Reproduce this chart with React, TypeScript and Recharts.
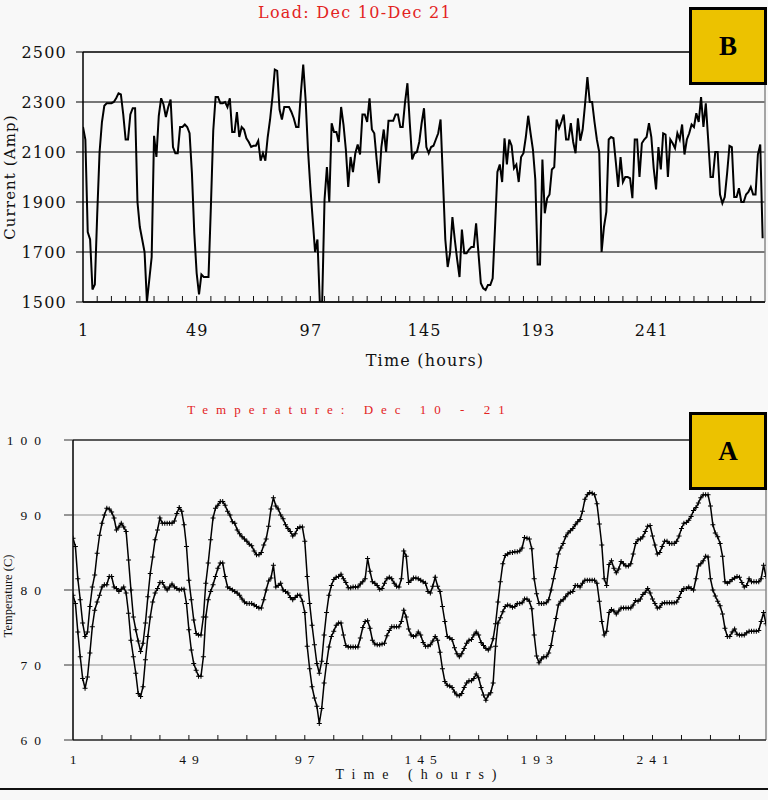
import { LineChart, Line, XAxis, YAxis, CartesianGrid, ReferenceLine } from "recharts";

// hourly load, Dec 10 - Dec 21 (288 h)
const load = [
  2200, 2150, 1780, 1750, 1550, 1570, 1850, 2100, 2220, 2285,
  2295, 2295, 2295, 2300, 2315, 2335, 2330, 2250, 2150, 2150,
  2250, 2275, 2275, 1900, 1800, 1750, 1700, 1500, 1590, 1680,
  2165, 2080, 2245, 2315, 2290, 2240, 2280, 2310, 2120, 2095,
  2095, 2200, 2200, 2210, 2200, 2175, 2015, 1775, 1615, 1530,
  1610, 1600, 1600, 1600, 1880, 2185, 2320, 2320, 2295, 2295,
  2300, 2280, 2315, 2180, 2180, 2260, 2160, 2200, 2190, 2155,
  2140, 2120, 2125, 2125, 2145, 2065, 2095, 2065, 2160, 2230,
  2320, 2430, 2425, 2270, 2230, 2280, 2280, 2280, 2260, 2235,
  2200, 2200, 2335, 2450, 2310, 2110, 1960, 1830, 1700, 1750,
  1500, 1500, 1910, 2040, 1900, 2215, 2180, 2180, 2140, 2280,
  2210, 2110, 1960, 2080, 2020, 2095, 2130, 2090, 2250, 2250,
  2220, 2315, 2190, 2175, 2070, 1975, 2120, 2190, 2100, 2225,
  2225, 2225, 2250, 2250, 2200, 2200, 2300, 2375, 2215, 2070,
  2095, 2100, 2140, 2215, 2275, 2120, 2095, 2120, 2125, 2150,
  2175, 2230, 1990, 1750, 1640, 1695, 1840, 1750, 1670, 1600,
  1790, 1695, 1695, 1710, 1720, 1720, 1815, 1695, 1575, 1555,
  1548, 1568, 1568, 1595, 1800, 2020, 2050, 1980, 2155, 2050,
  2150, 2125, 2035, 2050, 1980, 2080, 2095, 2160, 2245, 2175,
  2110, 1990, 1650, 1650, 2070, 1855, 1915, 1930, 2030, 2040,
  2230, 2195, 2220, 2250, 2150, 2150, 2215, 2140, 2095, 2235,
  2145, 2190, 2290, 2400, 2300, 2300, 2220, 2150, 2100, 1700,
  1800, 1860, 2150, 2160, 2155, 2060, 1960, 2080, 1980, 2000,
  2000, 1995, 1915, 2150, 2150, 2000, 2135, 2150, 2160, 2215,
  2160, 2035, 1950, 2120, 2030, 2175, 2170, 2000, 2150, 2135,
  2115, 2175, 2150, 2210, 2090, 2150, 2175, 2210, 2200, 2255,
  2220, 2320, 2200, 2295, 2150, 2000, 2000, 2100, 2100, 1930,
  1895, 1920, 2015, 2125, 2120, 1920, 1920, 1955, 1900, 1900,
  1930, 1940, 1960, 1930, 1930, 2090, 2130, 1755,
];

// temperature, upper trace
const tempHigh = [
  86.9, 85.8, 81.5, 78.7, 75.6, 73.8, 74.4, 77.8, 80.4, 82,
  84.9, 87.3, 88.9, 90, 90.9, 90.8, 90.4, 89.6, 88, 88.4,
  88.9, 88.4, 87.8, 84, 80, 76.4, 74.7, 73.2, 71.8, 72.9,
  75.6, 79.1, 82.2, 84.4, 86.7, 88, 89.6, 88.9, 88.9, 88.9,
  88.9, 88.9, 89.2, 90.2, 91, 90.5, 88.7, 85.8, 81.3, 78.7,
  76, 74.2, 74, 74, 76.4, 80.9, 83.6, 86.7, 89.6, 90.9,
  91.3, 91.8, 91.8, 91.3, 90.5, 90, 89.1, 88.9, 88, 87.5,
  87.1, 86.8, 86.5, 86.1, 85.9, 85.2, 84.7, 84.7, 85, 86,
  86.8, 88.5, 90.8, 92.3, 91.2, 90.8, 90, 89.5, 88.7, 88.2,
  87.8, 87.2, 87.5, 88.2, 88.4, 88.4, 86.5, 81.8, 78.2, 75.3,
  72.7, 70.2, 68.9, 70.5, 74, 77, 79.3, 80.6, 81.4, 81.7,
  81.8, 82.1, 81.5, 81, 80.3, 80.3, 80.4, 80.4, 80.4, 80.8,
  81.1, 81.5, 84.2, 82.5, 81.1, 80.9, 80.6, 80.1, 80.2, 80.9,
  81.5, 81.7, 81.5, 80.9, 80.5, 80.4, 81.5, 85.2, 84.5, 81,
  81.3, 81.6, 81.6, 81.5, 81.3, 81.1, 80.9, 79.8, 79.6, 80.5,
  81.7, 80.5, 79.8, 77.8, 75.8, 73.8, 73.6, 73.4, 72.3, 71.5,
  71.1, 71.5, 72.2, 72.9, 73.3, 73.4, 74, 74.4, 74, 73,
  72.6, 72.2, 72, 72.4, 73.5, 75.5, 78.4, 81.1, 83.5, 84.6,
  84.8, 85, 85, 85.1, 85.1, 85.2, 85.6, 87, 86.9, 86.8,
  85.5, 81.5, 79.5, 78.2, 78.2, 78.2, 78.3, 78.7, 80, 81.5,
  83, 84.8, 85.6, 86.2, 87.1, 87.6, 87.9, 88.2, 88.7, 89.1,
  89.4, 90.5, 92.1, 92.7, 93, 92.9, 92.7, 91.5, 88.8, 86,
  81.5, 80.6, 83.4, 83.9, 82.9, 82.3, 82.8, 83.8, 83.5, 83.2,
  83.2, 83.5, 84.8, 86.2, 86.7, 86.8, 87.1, 87.8, 88.5, 88.6,
  87.2, 86, 84.8, 85, 85.8, 86.5, 86.5, 86.2, 86.2, 86.2,
  86.5, 87.2, 88.2, 88.9, 89, 89.3, 89.8, 90.6, 91, 91.6,
  92.3, 92.7, 92.7, 92.7, 91.2, 88.7, 87.6, 87.1, 86.2, 84.5,
  81.1, 80.9, 81.1, 81.4, 81.6, 81.8, 81.7, 81, 80.4, 80.6,
  81.5, 81.1, 81.1, 81.1, 81.1, 81.5, 83.3, 81.8,
];

// temperature, lower trace
const tempLow = [
  79.3, 78.2, 74.4, 71.1, 68.2, 66.9, 68.4, 71.6, 75.1, 77.3,
  78.4, 79.3, 80.4, 80.7, 80.7, 81.8, 81.8, 80.4, 80.2, 79.8,
  80.1, 80.4, 79.6, 76.9, 73.3, 71.1, 68.9, 66.2, 65.8, 67.1,
  70.7, 73.8, 76.4, 78.4, 79.6, 80.2, 81, 81, 80.4, 80,
  80.4, 80.8, 80.4, 80.2, 80, 80.1, 80.1, 78.2, 74.7, 72,
  70.2, 69.3, 68.5, 68.5, 71.1, 76.4, 78.7, 79.8, 80.7, 81.8,
  82.9, 83.6, 83.6, 81.8, 80.4, 80.2, 80, 79.8, 79.6, 79.3,
  78.8, 78.4, 78.2, 78.2, 78.2, 78, 77.8, 77.6, 77.6, 78.7,
  80, 81.2, 81.6, 83.3, 80.4, 80.6, 80.9, 80, 79.8, 79.6,
  79, 78.7, 79, 79.3, 79.3, 78.5, 77, 72.5, 69.5, 67.1,
  65.6, 64.5, 62.2, 64.2, 67.6, 70.2, 72.4, 73.8, 74.5, 75.3,
  75.6, 75.6, 74, 72.6, 72.4, 72.4, 72.4, 72.4, 72.4, 73.6,
  75, 75.8, 75.9, 74.9, 73.3, 72.8, 72.7, 72.7, 72.8, 72.9,
  73.9, 74.6, 75.1, 75.1, 75.1, 75.1, 75.8, 77.3, 76.4, 74.8,
  74, 73.8, 73.9, 74.4, 74, 73, 72.5, 72.5, 72.7, 73.2,
  73.8, 73.3, 71.7, 69.5, 67.8, 67.3, 67.2, 67, 66.4, 66,
  65.9, 66.2, 67, 67.6, 67.9, 67.9, 68.2, 68.8, 68.3, 67,
  66, 65.3, 66, 66.3, 67.6, 72.5, 75.6, 76.3, 77.1, 77.8,
  78, 77.9, 77.7, 77.8, 78.2, 78.2, 78.3, 78.8, 78.8, 78.5,
  77.5, 74, 71.2, 70.3, 70.8, 71.1, 71.1, 71.6, 72.6, 74.5,
  76.2, 78, 78.5, 78.7, 79.1, 79.5, 79.7, 79.8, 80.6, 80.6,
  80.4, 80.9, 81.3, 81.3, 81.3, 81.3, 81.3, 80.9, 78.5, 75.8,
  74, 74.5, 77, 77.4, 77.2, 76.8, 77.2, 77.6, 77.6, 77.6,
  77.6, 77.6, 78, 78.6, 78.5, 78.8, 79.4, 79.7, 80.2, 79.6,
  78.8, 78.2, 77.6, 77.7, 78.2, 78.3, 78.3, 78.3, 78.3, 78.3,
  78.4, 79, 79.8, 80.2, 80.2, 80.4, 80.2, 80, 81.5, 83.2,
  83.5, 83.9, 84.5, 84.4, 81.5, 80, 79.2, 78.5, 77.9, 76.8,
  74.9, 73.8, 73.8, 74.4, 74.8, 74.1, 74, 74, 74, 74.3,
  74.5, 74.5, 74.5, 74.5, 74.6, 75.8, 77, 75.5,
];

const hours = load.map((_, i) => i + 1);
const hourLabels = [1, 49, 97, 145, 193, 241];
const loadTicks = [1500, 1700, 1900, 2100, 2300, 2500];
const tempTicks = [60, 70, 80, 90, 100];
const loadHourTicks = hours.filter((h) => (h - 1) % 6 === 0);
const tempHourTicks = hours.filter((h) => (h - 1) % 12 === 0);

const loadData = hours.map((h, i) => ({ hour: h, load: load[i] }));
const tempData = hours.map((h, i) => ({ hour: h, high: tempHigh[i], low: tempLow[i] }));

const SERIF = "'DejaVu Serif', serif";
const TIMES = "'Liberation Serif', serif";
const RED = "#e3231e";

// x tick: small inward mark at every tick, label only on the labelled hours
function HourTick(props: any) {
  const { x, y, payload, dy, size, spacing, family, mark } = props;
  const labelled = hourLabels.includes(payload.value);
  return (
    <g>
      {payload.value !== 1 && <line x1={x} x2={x} y1={y - mark} y2={y} stroke="#111" strokeWidth={1} />}
      {labelled && (
        <text
          x={x + spacing / 2}
          y={y + dy}
          textAnchor="middle"
          fontSize={size}
          fontFamily={family}
          fill="#111"
          style={{ letterSpacing: spacing }}
        >
          {payload.value}
        </text>
      )}
    </g>
  );
}

function ValueTick(props: any) {
  const { x, y, payload, size, spacing, family } = props;
  return (
    <text
      x={x}
      y={y}
      dy="0.36em"
      textAnchor="end"
      fontSize={size}
      fontFamily={family}
      fill="#111"
      style={{ letterSpacing: spacing }}
    >
      {payload.value}
    </text>
  );
}

function PlusDot(props: any) {
  const { cx, cy, index } = props;
  if (cx == null || cy == null) return <g key={index} />;
  return (
    <path
      key={index}
      d={`M${cx - 2.5},${cy}h5M${cx},${cy - 2.5}v5`}
      stroke="#000"
      strokeWidth={1}
      fill="none"
    />
  );
}

const abs = (style: any) => ({ position: "absolute" as const, ...style });

function Badge({ letter, top }: { letter: string; top: number }) {
  return (
    <div
      style={abs({
        left: 689,
        top,
        width: 72,
        height: 72,
        background: "#ecc200",
        border: "3px solid #000",
        display: "flex",
        alignItems: "center",
        justifyContent: "center",
        fontFamily: TIMES,
        fontWeight: "bold",
        fontSize: 27,
        color: "#000",
      })}
    >
      {letter}
    </div>
  );
}

export default function App() {
  return (
    <div
      style={{
        position: "absolute",
        left: 0,
        top: 0,
        width: 768,
        height: 800,
        background: "#f8f8f8",
        overflow: "hidden",
      }}
    >
      {/* Load chart */}
      <div style={abs({ left: 0, top: 0 })}>
        <LineChart width={768} height={400} data={loadData} margin={{ top: 52, right: 3, left: 13, bottom: 58 }}>
          <CartesianGrid vertical={false} stroke="#4c4c4c" strokeWidth={1.3} />
          <XAxis
            dataKey="hour"
            type="number"
            domain={[1, 289]}
            ticks={loadHourTicks}
            interval={0}
            allowDataOverflow
            height={40}
            tickSize={0}
            tickMargin={0}
            axisLine={{ stroke: "#000", strokeWidth: 1.5 }}
            tickLine={false}
            tick={(p: any) => <HourTick {...p} dy={34} mark={6} size={16} spacing={1.2} family={SERIF} />}
          />
          <YAxis
            domain={[1500, 2500]}
            ticks={loadTicks}
            interval={0}
            allowDataOverflow
            width={70}
            tickSize={7}
            tickMargin={9}
            axisLine={{ stroke: "#000", strokeWidth: 1.5 }}
            tickLine={{ stroke: "#000" }}
            tick={(p: any) => <ValueTick {...p} size={16} spacing={1.2} family={SERIF} />}
          />
          <ReferenceLine y={2500} stroke="#3c3c3c" strokeWidth={2} />
          <ReferenceLine x={289} stroke="#8a8a8a" strokeWidth={1.5} />
          <Line type="linear" dataKey="load" stroke="#000" strokeWidth={2} dot={false} isAnimationActive={false} />
        </LineChart>
      </div>

      {/* Temperature chart */}
      <div style={abs({ left: 0, top: 0 })}>
        <LineChart width={768} height={800} data={tempData} margin={{ top: 440, right: 2, left: 0, bottom: 30 }}>
          <CartesianGrid vertical={false} stroke="#b4b4b4" strokeWidth={1.3} />
          <XAxis
            dataKey="hour"
            type="number"
            domain={[1, 288]}
            ticks={tempHourTicks}
            interval={0}
            allowDataOverflow
            height={30}
            tickSize={0}
            tickMargin={0}
            axisLine={{ stroke: "#333", strokeWidth: 1.5 }}
            tickLine={false}
            tick={(p: any) => <HourTick {...p} dy={24} mark={5} size={13.5} spacing={6} family={TIMES} />}
          />
          <YAxis
            domain={[60, 100]}
            ticks={tempTicks}
            interval={0}
            allowDataOverflow
            width={73}
            tickSize={9}
            tickMargin={16}
            axisLine={{ stroke: "#000", strokeWidth: 1.5 }}
            tickLine={{ stroke: "#333" }}
            tick={(p: any) => <ValueTick {...p} size={13.5} spacing={7} family={TIMES} />}
          />
          <ReferenceLine y={100} stroke="#5a5a5a" strokeWidth={1.8} />
          <ReferenceLine x={288} stroke="#8a8a8a" strokeWidth={1.5} />
          <Line type="linear" dataKey="high" stroke="#000" strokeWidth={1.5} dot={PlusDot} isAnimationActive={false} />
          <Line type="linear" dataKey="low" stroke="#000" strokeWidth={1.5} dot={PlusDot} isAnimationActive={false} />
        </LineChart>
      </div>

      {/* titles and axis names */}
      <div style={abs({ left: 0, width: 710, top: 3, textAlign: "center", fontFamily: SERIF, fontSize: 16, letterSpacing: 1.3, color: RED })}>
        Load: Dec 10-Dec 21
      </div>
      <div style={abs({ left: 280, width: 290, top: 351, textAlign: "center", fontFamily: SERIF, fontSize: 16, letterSpacing: 1.2, color: "#111" })}>
        Time (hours)
      </div>
      <div
        style={abs({
          left: 10,
          top: 177,
          transform: "translate(-50%, -50%) rotate(-90deg)",
          whiteSpace: "nowrap",
          fontFamily: SERIF,
          fontSize: 15,
          letterSpacing: 1.1,
          color: "#111",
        })}
      >
        Current (Amp)
      </div>

      <div style={abs({ left: 100, width: 500, top: 402, textAlign: "center", fontFamily: TIMES, fontSize: 13, letterSpacing: 8, color: RED })}>
        Temperature: Dec 10 - 21
      </div>
      <div style={abs({ left: 200, width: 440, top: 767, textAlign: "center", fontFamily: TIMES, fontSize: 14, letterSpacing: 8, color: "#111" })}>
        Time (hours)
      </div>
      <div
        style={abs({
          left: 8,
          top: 596,
          transform: "translate(-50%, -50%) rotate(-90deg)",
          whiteSpace: "nowrap",
          fontFamily: TIMES,
          fontSize: 12.5,
          color: "#111",
        })}
      >
        Temperature (C)
      </div>

      <Badge letter="B" top={7} />
      <Badge letter="A" top={412} />

      <div style={abs({ left: 0, top: 788, width: 768, height: 2, background: "#111" })} />
    </div>
  );
}
